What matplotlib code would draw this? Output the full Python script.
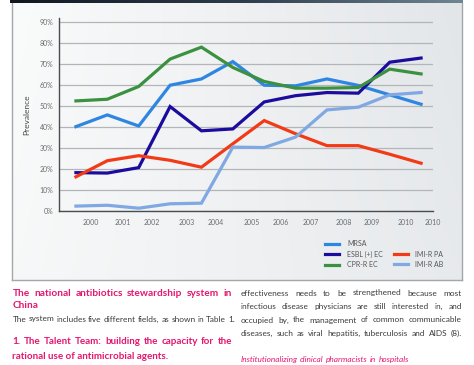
import matplotlib
matplotlib.use("Agg")
import matplotlib.pyplot as plt
from matplotlib.colors import LinearSegmentedColormap
from matplotlib.lines import Line2D
import numpy as np

plt.rcParams['font.family'] = ['Lato', 'DejaVu Sans']

# data (percent), one point per year slot
years = list(range(12))
tick_labels = ['2000', '2001', '2002', '2003', '2004', '2005',
               '2006', '2007', '2008', '2009', '2010', '2010']
tick_pos = [0.48, 1.5, 2.42, 3.54, 4.46, 5.61, 6.54, 7.49, 8.55, 9.44, 10.52, 11.38]

mrsa = [40.2, 45.8, 40.5, 60.0, 63.0, 71.3, 60.0, 59.7, 63.0, 59.9, 55.4, 50.9]
esbl = [18.2, 18.0, 20.6, 49.8, 38.2, 39.1, 52.0, 55.0, 56.5, 56.2, 71.0, 73.0]
cpr = [52.5, 53.3, 59.4, 72.5, 78.2, 68.5, 61.8, 58.6, 58.6, 58.9, 67.7, 65.4]
imi_pa = [16.2, 23.9, 26.3, 24.1, 20.8, 32.0, 43.1, 36.8, 31.1, 31.1, 27.0, 22.7]
imi_ab = [2.2, 2.6, 1.2, 3.3, 3.6, 30.4, 30.2, 35.2, 48.2, 49.5, 55.4, 56.5]

W, H = 474, 365
fig = plt.figure(figsize=(W / 100, H / 100), dpi=100)
fig.patch.set_facecolor('white')


def px(x, y, w, h):
    return [x / W, 1 - (y + h) / H, w / W, h / H]


# grey panel behind the chart
bg = fig.add_axes(px(12, 3, 450, 277))
cm = LinearSegmentedColormap.from_list('panel', ['#fafbfb', '#e3e6e9'])
xx, yy = np.meshgrid(np.linspace(0, 1, 200), np.linspace(0, 1, 150))
bg.imshow(0.75 * xx + 0.35 * (1 - yy) * xx + 0.15 * yy, cmap=cm, aspect='auto',
          extent=(0, 1, 0, 1), vmin=0, vmax=1.1)
bg.set_xticks([]); bg.set_yticks([])
for s in bg.spines.values():
    s.set_color('#a3a7ab'); s.set_linewidth(1.0)
bg.spines['top'].set_visible(False)

# dark strip on top
band = fig.add_axes(px(10, 0, 453, 3.5))
cm2 = LinearSegmentedColormap.from_list('band', ['#121821', '#2c3a4a', '#6f8592'])
band.imshow(np.linspace(0, 1, 200)[None, :], cmap=cm2, aspect='auto', extent=(0, 1, 0, 1))
band.axis('off')

ax = fig.add_axes(px(59, 18.3, 374, 192.4))
ax.patch.set_alpha(0)
ax.set_xlim(-0.54, 11.38)
ax.set_ylim(0, 92)

series = [
    (mrsa, '#2e86e3', 'MRSA'),
    (esbl, '#1c0c9e', 'ESBL (+) EC'),
    (cpr, '#3b913f', 'CPR-R EC'),
    (imi_pa, '#f23b16', 'IMI-R PA'),
    (imi_ab, '#80a8e2', 'IMI-R AB'),
]
handles = []
for vals, col, lab in series:
    h, = ax.plot(years, vals, color=col, lw=2.3, solid_joinstyle='miter', label=lab, zorder=3)
    handles.append(h)

ax.set_yticks(range(0, 100, 10))
ax.set_yticklabels([f'{v}%' for v in range(0, 100, 10)])
ax.set_xticks(tick_pos)
ax.set_xticklabels(tick_labels)
ax.tick_params(length=0, labelsize=5, colors='#6a6d70', pad=4)
ax.tick_params(axis='x', pad=6)
ax.yaxis.grid(True, color='#b3b6b9', lw=0.9)
ax.set_axisbelow(True)
for s in ['top', 'right']:
    ax.spines[s].set_visible(False)
for s in ['left', 'bottom']:
    ax.spines[s].set_color('#4a4d50'); ax.spines[s].set_linewidth(1.0)
ax.set_ylabel('Prevalence', fontsize=6, color='#444648', labelpad=7)

blank = Line2D([], [], color='none')
fig.legend([handles[0], handles[1], handles[2], blank, handles[3], handles[4]],
           ['MRSA', 'ESBL (+) EC', 'CPR-R EC', '', 'IMI-R PA', 'IMI-R AB'],
           ncol=2, loc='upper left', bbox_to_anchor=(322 / W, 1 - 237 / H),
           frameon=False, fontsize=5, handlelength=2.0, handleheight=0.6,
           labelspacing=0.45, columnspacing=1.6, handletextpad=1.1,
           borderpad=0, labelcolor='#55585b')

# page text under the figure
pink = '#e5176f'
body = '#3a3a3a'
narrow = ['Liberation Sans Narrow', 'Lato', 'DejaVu Sans']
renderer = fig.canvas.get_renderer()


def word_widths(words, **kw):
    out = []
    for w in words:
        t = fig.text(0, 0, w, **kw)
        out.append(t.get_window_extent(renderer).width)
        t.remove()
    return out


def fit_size(text, width, space=0.26, **kw):
    # size (pt) at which the words plus normal spaces span `width` px
    words = text.split()
    s8 = sum(word_widths(words, fontsize=8, **kw))
    return width / (s8 / 8 + (len(words) - 1) * space * 100 / 72)


def put_line(text, x0, x1, y, justify=False, **kw):
    if not justify:
        fig.text(x0 / W, 1 - y / H, text, va='center', ha='left', **kw)
        return
    words = text.split()
    objs = [fig.text(0, 1 - y / H, w, va='center', ha='left', **kw) for w in words]
    widths = [o.get_window_extent(renderer).width for o in objs]
    gap = (x1 - x0 - sum(widths)) / (len(words) - 1)
    x = x0
    for o, w in zip(objs, widths):
        o.set_x(x / W)
        x += w + gap


s1 = fit_size('The national antibiotics stewardship system in', 212, space=0.3, fontweight='bold')
hd = dict(fontsize=s1, fontweight='bold', color=pink)
put_line('The national antibiotics stewardship system in', 12.5, 232, 293, True, **hd)
put_line('China', 12.5, 232, 305.5, **hd)

sb = fit_size('The system includes five different fields, as shown in Table 1.', 222, family=narrow)
put_line('The system includes five different fields, as shown in Table 1.', 12.5, 235, 319,
         True, fontsize=sb, color=body, family=narrow)

s2 = fit_size('1. The Talent Team: building the capacity for the', 217, space=0.3, fontweight='bold')
hd2 = dict(fontsize=s2, fontweight='bold', color=pink)
put_line('1. The Talent Team: building the capacity for the', 12.5, 232, 341, True, **hd2)
put_line('rational use of antimicrobial agents.', 12.5, 232, 356.5, **hd2)

bd = dict(fontsize=sb, color=body, family=narrow)
put_line('effectiveness needs to be strengthened because most', 240.5, 462, 293, True, **bd)
put_line('infectious disease physicians are still interested in, and', 240.5, 462, 306.5, True, **bd)
put_line('occupied by, the management of common communicable', 240.5, 462, 320, True, **bd)
put_line('diseases, such as viral hepatitis, tuberculosis and AIDS (8).', 240.5, 462, 333.5, True, **bd)
put_line('Institutionalizing clinical pharmacists in hospitals', 240.5, 409, 359.5, True,
         fontsize=sb, color=pink, style='italic', family=narrow)

fig.savefig('out.png', dpi=100)
